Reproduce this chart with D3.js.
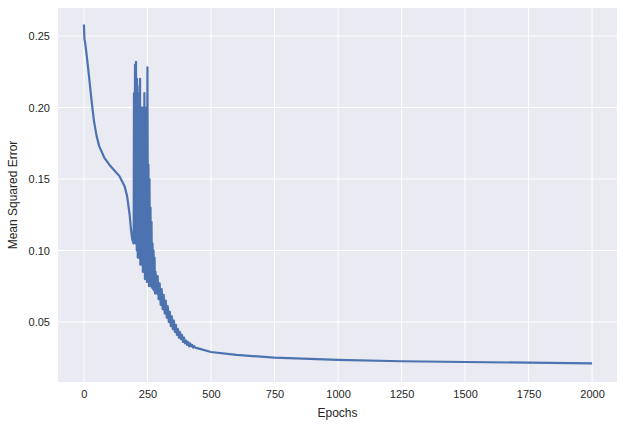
<!DOCTYPE html>
<html><head><meta charset="utf-8">
<script src="https://cdn.jsdelivr.net/npm/d3@7"></script>
<style>body{margin:0;background:#fff}text{font-family:"Liberation Sans",Arial,sans-serif}</style>
</head><body><div id="chart"></div>
<script>
const epochs = [0,2,5,10,20,30,40,50,60,80,100,120,140,160,170,180,185,190,195,
  196,197,198,199,200,201,202,203,204,205,206,207,208,209,210,211,212,213,214,215,216,217,218,219,220,221,222,223,224,225,226,227,228,229,230,
  232,234,236,238,240,242,244,246,248,250,252,254,256,258,260,262,264,266,268,270,272,274,276,278,280,
  282,286,290,294,298,302,306,310,314,318,322,326,330,334,338,342,346,350,354,358,362,366,370,374,378,382,386,390,394,398,402,406,410,414,418,422,426,430,434,438,
  460,500,600,750,1000,1250,1500,1750,2000];
const mse = [0.258,0.248,0.245,0.238,0.222,0.205,0.19,0.18,0.173,0.165,0.16,0.156,0.152,0.145,0.138,0.125,0.115,0.108,0.105,
  0.12,0.21,0.11,0.2,0.11,0.23,0.105,0.22,0.108,0.232,0.11,0.21,0.1,0.22,0.1,0.215,0.095,0.2,0.1,0.21,0.095,0.2,0.1,0.19,0.1,0.22,0.09,0.2,0.095,0.195,0.09,0.2,0.095,0.18,0.2,
  0.085,0.19,0.09,0.21,0.08,0.185,0.085,0.2,0.078,0.228,0.08,0.16,0.075,0.15,0.078,0.13,0.075,0.12,0.074,0.105,0.073,0.1,0.072,0.095,0.07,
  0.085,0.07,0.082,0.066,0.077,0.062,0.073,0.059,0.069,0.056,0.065,0.053,0.061,0.05,0.057,0.047,0.054,0.045,0.051,0.043,0.048,0.041,0.045,0.039,0.043,0.038,0.041,0.036,0.039,0.035,0.037,0.034,0.036,0.033,0.035,0.033,0.034,0.032,0.033,0.032,
  0.031,0.029,0.027,0.025,0.0235,0.0225,0.022,0.0215,0.021];
const xTicks = [0,250,500,750,1000,1250,1500,1750,2000];
const yTicks = [0.05,0.10,0.15,0.20,0.25];

const width = 623, height = 429;
const margin = {top: 8, right: 6, bottom: 47, left: 58};
const x = d3.scaleLinear().domain([-102, 2098]).range([margin.left, width - margin.right]);
const y = d3.scaleLinear().domain([0.008, 0.2696]).range([height - margin.bottom, margin.top]);

const svg = d3.select('#chart').append('svg').attr('width', width).attr('height', height);
svg.append('rect').attr('x', margin.left).attr('y', margin.top)
  .attr('width', width - margin.left - margin.right).attr('height', height - margin.top - margin.bottom)
  .attr('fill', '#eaeaf2');

const g = svg.append('g');
g.selectAll('.vx').data(xTicks).join('line')
  .attr('x1', d => x(d)).attr('x2', d => x(d)).attr('y1', margin.top).attr('y2', height - margin.bottom)
  .attr('stroke', '#fff').attr('stroke-width', 1);
g.selectAll('.hy').data(yTicks).join('line')
  .attr('y1', d => y(d)).attr('y2', d => y(d)).attr('x1', margin.left).attr('x2', width - margin.right)
  .attr('stroke', '#fff').attr('stroke-width', 1);

const xAxis = svg.append('g').attr('transform', `translate(0,${height - margin.bottom})`)
  .call(d3.axisBottom(x).tickValues(xTicks).tickSize(0).tickPadding(8).tickFormat(d3.format('d')));
const yAxis = svg.append('g').attr('transform', `translate(${margin.left},0)`)
  .call(d3.axisLeft(y).tickValues(yTicks).tickSize(0).tickPadding(8).tickFormat(d3.format('.2f')));
[xAxis, yAxis].forEach(a => {
  a.select('.domain').remove();
  a.selectAll('text').attr('fill', '#262626').style('font-size', '11px');
});

const line = d3.line().x((d, i) => x(epochs[i])).y(d => y(d));
svg.append('path').attr('d', line(mse)).attr('fill', 'none')
  .attr('stroke', '#4c72b0').attr('stroke-width', 2.2).attr('stroke-linejoin', 'round');

svg.append('text').attr('x', (margin.left + width - margin.right) / 2).attr('y', 417)
  .attr('text-anchor', 'middle').attr('fill', '#262626').style('font-size', '12px').text('Epochs');
svg.append('text').attr('transform', `translate(17,${(margin.top + height - margin.bottom) / 2}) rotate(-90)`)
  .attr('text-anchor', 'middle').attr('fill', '#262626').style('font-size', '12px').text('Mean Squared Error');
</script></body></html>
